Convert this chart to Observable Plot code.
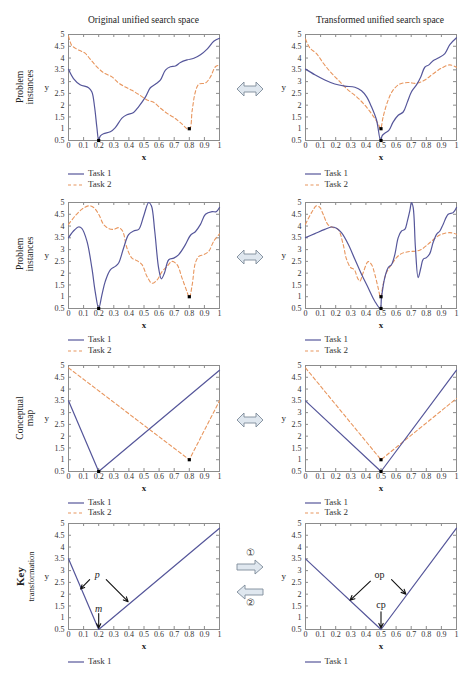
<!DOCTYPE html>
<html><head><meta charset="utf-8">
<script src="https://cdn.jsdelivr.net/npm/d3@7"></script>
<script src="https://cdn.jsdelivr.net/npm/@observablehq/plot@0.6"></script>
<style>
body{margin:0;background:#fff;}
#root{position:relative;width:474px;height:680px;overflow:hidden;font-family:"Liberation Serif","DejaVu Serif",serif;color:#222;background:#fff;}
#root svg, #root svg text{font-family:"Liberation Serif","DejaVu Serif",serif;}
.abs{position:absolute;white-space:nowrap;}
</style></head><body><div id="root"></div>
<script>
// ---------- data ----------
const xTicks = [0, 0.1, 0.2, 0.3, 0.4, 0.5, 0.6, 0.7, 0.8, 0.9, 1];
const yTicks = [0.5, 1, 1.5, 2, 2.5, 3, 3.5, 4, 4.5, 5];
const columnTitles = ["Original unified search space", "Transformed unified search space"];
const rowLabels = [["Problem", "instances"], ["Problem", "instances"], ["Conceptual", "map"], ["Key", "transformation"]];
const seriesNames = ["Task 1", "Task 2"];

// Row 1 - problem instances (smooth)
const r1OrigTask1 = [[0,3.52],[0.033,3.13],[0.077,2.87],[0.133,2.74],[0.155,2.56],[0.173,1.91],[0.188,1.05],[0.2,0.5],[0.21,0.69],[0.232,0.79],[0.277,0.87],[0.31,1.05],[0.354,1.45],[0.387,1.59],[0.431,1.69],[0.465,1.94],[0.509,2.34],[0.542,2.74],[0.575,2.89],[0.608,3.06],[0.642,3.49],[0.675,3.63],[0.708,3.66],[0.741,3.81],[0.785,3.92],[0.83,3.99],[0.874,4.14],[0.918,4.38],[0.962,4.71],[1,4.84]];
const r1OrigTask2 = [[0,4.93],[0.02,4.55],[0.044,4.42],[0.088,4.28],[0.11,4.21],[0.144,3.95],[0.188,3.63],[0.232,3.38],[0.288,3.2],[0.332,2.94],[0.376,2.77],[0.42,2.63],[0.476,2.41],[0.52,2.22],[0.564,2.12],[0.608,1.88],[0.653,1.65],[0.697,1.48],[0.741,1.26],[0.8,0.97],[0.819,1.77],[0.84,2.56],[0.863,2.89],[0.907,2.94],[0.94,3.2],[0.973,3.63],[1,3.7]];
const r1TransTask1 = [[0,3.53],[0.062,3.29],[0.128,3.07],[0.194,2.9],[0.26,2.81],[0.327,2.76],[0.371,2.61],[0.404,2.36],[0.437,1.93],[0.47,1.38],[0.497,0.5],[0.508,0.71],[0.525,0.81],[0.552,0.93],[0.58,1.28],[0.614,1.57],[0.647,1.71],[0.675,2.14],[0.702,2.57],[0.735,2.86],[0.764,3.21],[0.79,3.61],[0.817,3.71],[0.845,3.89],[0.879,4.0],[0.923,4.19],[0.956,4.57],[1,4.86]];
const r1TransTask2 = [[0,4.81],[0.029,4.43],[0.073,4.19],[0.117,3.79],[0.172,3.36],[0.227,3.0],[0.283,2.64],[0.338,2.36],[0.393,2.0],[0.437,1.64],[0.481,1.21],[0.497,1.0],[0.514,1.5],[0.547,2.21],[0.58,2.64],[0.625,2.9],[0.68,2.96],[0.735,2.93],[0.79,3.07],[0.845,3.33],[0.9,3.57],[0.956,3.71],[1,3.61]];

// Row 2 - problem instances (rugged)
const r2OrigTask1 = [[0,3.5],[0.033,3.79],[0.066,3.96],[0.088,3.9],[0.122,3.36],[0.155,2.21],[0.177,1.21],[0.2,0.5],[0.221,1.07],[0.243,1.64],[0.277,2.14],[0.31,2.29],[0.332,2.43],[0.365,3.07],[0.398,3.64],[0.431,3.79],[0.465,3.86],[0.498,4.43],[0.531,5.0],[0.549,4.86],[0.571,3.79],[0.597,2.21],[0.615,1.76],[0.635,2.0],[0.664,2.57],[0.697,2.64],[0.73,2.79],[0.774,3.21],[0.808,3.61],[0.84,3.76],[0.874,4.07],[0.907,4.5],[0.951,4.61],[0.978,4.61],[1,4.79]];
const r2OrigTask2 = [[0,4.07],[0.044,4.43],[0.088,4.71],[0.133,4.86],[0.166,4.79],[0.2,4.5],[0.232,4.07],[0.265,3.9],[0.299,3.86],[0.332,3.93],[0.358,3.79],[0.387,3.07],[0.42,2.64],[0.454,2.53],[0.487,2.36],[0.52,1.86],[0.553,1.57],[0.586,1.71],[0.62,2.07],[0.653,2.29],[0.686,2.5],[0.719,2.36],[0.752,1.79],[0.785,1.21],[0.8,0.96],[0.819,1.5],[0.84,2.43],[0.863,2.71],[0.896,2.79],[0.929,2.93],[0.962,3.36],[1,3.67]];
const r2TransTask1 = [[0,3.51],[0.062,3.68],[0.128,3.86],[0.172,3.96],[0.205,3.91],[0.238,3.72],[0.283,3.23],[0.327,2.59],[0.371,1.95],[0.415,1.38],[0.459,0.81],[0.495,0.5],[0.503,0.95],[0.525,1.81],[0.547,2.23],[0.57,2.37],[0.592,2.8],[0.614,3.51],[0.636,3.79],[0.658,3.86],[0.675,4.22],[0.691,4.65],[0.702,5.0],[0.713,4.79],[0.728,3.08],[0.746,1.81],[0.764,2.23],[0.779,2.59],[0.801,2.66],[0.823,2.83],[0.845,3.3],[0.868,3.65],[0.89,3.79],[0.912,4.08],[0.945,4.5],[0.978,4.57],[1,4.79]];
const r2TransTask2 = [[0,4.08],[0.04,4.57],[0.073,4.86],[0.095,4.79],[0.117,4.5],[0.15,4.05],[0.183,3.94],[0.216,3.86],[0.249,3.23],[0.272,2.59],[0.3,2.23],[0.322,2.16],[0.344,1.81],[0.36,1.66],[0.382,2.02],[0.415,2.49],[0.437,2.37],[0.459,1.95],[0.481,1.38],[0.497,0.98],[0.514,1.52],[0.536,2.02],[0.57,2.37],[0.603,2.66],[0.636,2.83],[0.68,2.91],[0.735,2.94],[0.768,3.01],[0.812,3.23],[0.857,3.48],[0.9,3.65],[0.956,3.72],[1,3.65]];

// Row 3 - conceptual map (piecewise linear)
const r3OrigTask1 = [[0,3.5],[0.2,0.5],[1,4.8]];
const r3OrigTask2 = [[0,4.9],[0.8,1.0],[1,3.5]];
const r3TransTask1 = [[0,3.5],[0.5,0.5],[1,4.8]];
const r3TransTask2 = [[0,4.9],[0.5,1.0],[1,3.6]];

// Row 4 - key transformation
const r4OrigTask1 = [[0,3.5],[0.2,0.5],[1,4.8]];
const r4TransTask1 = [[0,3.5],[0.5,0.5],[1,4.8]];

// optima markers [x, y]
const optimaOrig = [[0.2,0.5],[0.8,1.0]];
const optimaTrans = [[0.5,0.5],[0.5,1.0]];

// annotations (row 4): labels [x, y, text] and arrows [x1, y1, x2, y2]
const r4OrigLabels = [[0.19,2.84,"p"],[0.2,1.4,"m"]];
const r4OrigArrows = [[0.14,2.62,0.08,2.22],[0.25,2.62,0.395,1.68],[0.2,1.18,0.2,0.56]];
const r4TransLabels = [[0.49,2.83,"op"],[0.5,1.55,"cp"]];
const r4TransArrows = [[0.43,2.55,0.295,1.74],[0.57,2.62,0.665,2.0],[0.5,1.25,0.5,0.56]];

// ---------- styling / layout ----------
const C1 = "#55569a", C2 = "#e8965e", FRAME = "#8c8c8c";
const FW = 151, FH = 106, ML = 40, MR = 6, MT = 6, MB = 28;
const colFrameLeft = [68, 304.5];
const rowFrameTop = [34, 202, 365, 523];
const rowLegendY = [[173,184],[339,350],[502,512],[661]];
const rowLabelY = [87, 254, 418, 576];
const arrowY = [89, 257, 420];

const panels = [
  {row:0,col:0,t1:r1OrigTask1,t2:r1OrigTask2,opt:optimaOrig},
  {row:0,col:1,t1:r1TransTask1,t2:r1TransTask2,opt:optimaTrans},
  {row:1,col:0,t1:r2OrigTask1,t2:r2OrigTask2,opt:optimaOrig},
  {row:1,col:1,t1:r2TransTask1,t2:r2TransTask2,opt:optimaTrans},
  {row:2,col:0,t1:r3OrigTask1,t2:r3OrigTask2,opt:optimaOrig,linear:true},
  {row:2,col:1,t1:r3TransTask1,t2:r3TransTask2,opt:optimaTrans,linear:true},
  {row:3,col:0,t1:r4OrigTask1,labels:r4OrigLabels,arrows:r4OrigArrows,linear:true,italic:true},
  {row:3,col:1,t1:r4TransTask1,labels:r4TransLabels,arrows:r4TransArrows,linear:true}
];

const root = document.getElementById("root");
function place(el, left, top) { el.style.position = "absolute"; el.style.left = left + "px"; el.style.top = top + "px"; root.appendChild(el); return el; }
function div(html, cls, style) { const d = document.createElement("div"); d.className = "abs " + (cls||""); d.innerHTML = html; Object.assign(d.style, style||{}); return d; }

for (const p of panels) {
  const curve = p.linear ? "linear" : "catmull-rom";
  const marks = [
    Plot.frame({stroke: FRAME}),
    Plot.tickX(xTicks, {x: d => d, insetTop: FH - 3, stroke: FRAME}),
    Plot.tickX(xTicks, {x: d => d, insetBottom: FH - 3, stroke: FRAME}),
    Plot.tickY(yTicks, {y: d => d, insetRight: FW - 3, stroke: FRAME}),
    Plot.tickY(yTicks, {y: d => d, insetLeft: FW - 3, stroke: FRAME}),
    Plot.axisX({ticks: xTicks, tickFormat: d => String(d), tickSize: 0, tickPadding: 2, label: null, fill: "#333"}),
    Plot.axisY({ticks: yTicks, tickFormat: d => String(d), tickSize: 0, tickPadding: 4, label: null, fill: "#333"}),
    Plot.text(["x"], {text: d => d, frameAnchor: "bottom", dy: 19, fontWeight: "bold", fontSize: 9, fill: "#222"}),
    Plot.text(["y"], {text: d => d, frameAnchor: "left", dx: -24, fontSize: 9, fill: "#222"})
  ];
  if (p.t2) marks.push(Plot.line(p.t2, {x: d => d[0], y: d => d[1], stroke: C2, strokeWidth: 1.1, strokeDasharray: "3.5,2.5", curve}));
  marks.push(Plot.line(p.t1, {x: d => d[0], y: d => d[1], stroke: C1, strokeWidth: 1.2, curve}));
  if (p.opt) marks.push(Plot.dot(p.opt, {x: d => d[0], y: d => d[1], symbol: "square", r: 1.8, fill: "#000"}));
  if (p.arrows) marks.push(Plot.arrow(p.arrows, {x1: d => d[0], y1: d => d[1], x2: d => d[2], y2: d => d[3], stroke: "#111", strokeWidth: 1.1, headLength: 7, headAngle: 50}));
  if (p.labels) marks.push(Plot.text(p.labels, {x: d => d[0], y: d => d[1], text: d => d[2], fontSize: 10, fill: "#222", fontStyle: p.italic ? "italic" : "normal"}));
  const chart = Plot.plot({
    width: ML + FW + MR, height: MT + FH + MB,
    marginLeft: ML, marginRight: MR, marginTop: MT, marginBottom: MB,
    x: {domain: [0, 1]}, y: {domain: [0.5, 5]},
    style: {fontFamily: '"Liberation Serif","DejaVu Serif",serif', fontSize: "8px", background: "transparent", overflow: "visible"},
    marks
  });
  place(chart, colFrameLeft[p.col] - ML, rowFrameTop[p.row] - MT);

  // legend
  const ly = rowLegendY[p.row];
  const names = p.t2 ? seriesNames : [seriesNames[0]];
  names.forEach((n, i) => {
    const dash = i === 1 ? 'stroke-dasharray="3,2.5"' : "";
    const col = i === 1 ? C2 : C1;
    const el = div(`<svg width="16" height="6" style="vertical-align:middle;margin-right:4px"><line x1="0" y1="3" x2="16" y2="3" stroke="${col}" stroke-width="1.2" ${dash}/></svg><span>${n}</span>`, "", {fontSize: "9px", lineHeight: "10px", color: "#333"});
    place(el, colFrameLeft[p.col], ly[i] - 5);
  });
}

// column titles
columnTitles.forEach((t, c) => {
  const el = div(t, "", {fontSize: "9.5px", color: "#222", width: "200px", textAlign: "center", lineHeight: "12px"});
  place(el, colFrameLeft[c] + FW / 2 - 100, 14);
});

// row labels (rotated)
rowLabels.forEach((lab, r) => {
  const isKey = r === 3;
  const html = isKey
    ? `<div style="font-size:11px;font-weight:bold;line-height:11px">${lab[0]}</div><div style="font-size:8.5px;line-height:10px">${lab[1]}</div>`
    : `<div style="font-size:9.5px;line-height:10px">${lab[0]}</div><div style="font-size:9.5px;line-height:10px">${lab[1]}</div>`;
  const el = div(html, "", {width: "80px", textAlign: "center", color: "#222", transform: "rotate(-90deg)", transformOrigin: "center center"});
  place(el, 25 - 40, rowLabelY[r] - 10);
});

// double arrows between columns
const dbl = "M-13,0 L-6,-7 L-6,-3 L6,-3 L6,-7 L13,0 L6,7 L6,3 L-6,3 L-6,7 Z";
const sgl = "M-13,-3 L5,-3 L5,-7 L13,0 L5,7 L5,3 L-13,3 Z";
function shape(path, cx, cy, flip) {
  const s = document.createElementNS("http://www.w3.org/2000/svg", "svg");
  s.setAttribute("width", 30); s.setAttribute("height", 18);
  s.innerHTML = `<path d="${path}" transform="translate(15,9)${flip ? " scale(-1,1)" : ""}" fill="#dfe7ef" stroke="#7d8a99" stroke-width="0.9"/>`;
  return place(s, cx - 15, cy - 9);
}
arrowY.forEach(y => shape(dbl, 250, y));
shape(sgl, 250, 567);
shape(sgl, 250, 592, true);
place(div("①", "", {fontSize: "10px", color: "#444", width: "20px", textAlign: "center"}), 240, 547);
place(div("②", "", {fontSize: "10px", color: "#444", width: "20px", textAlign: "center"}), 240, 597);
</script></body></html>
